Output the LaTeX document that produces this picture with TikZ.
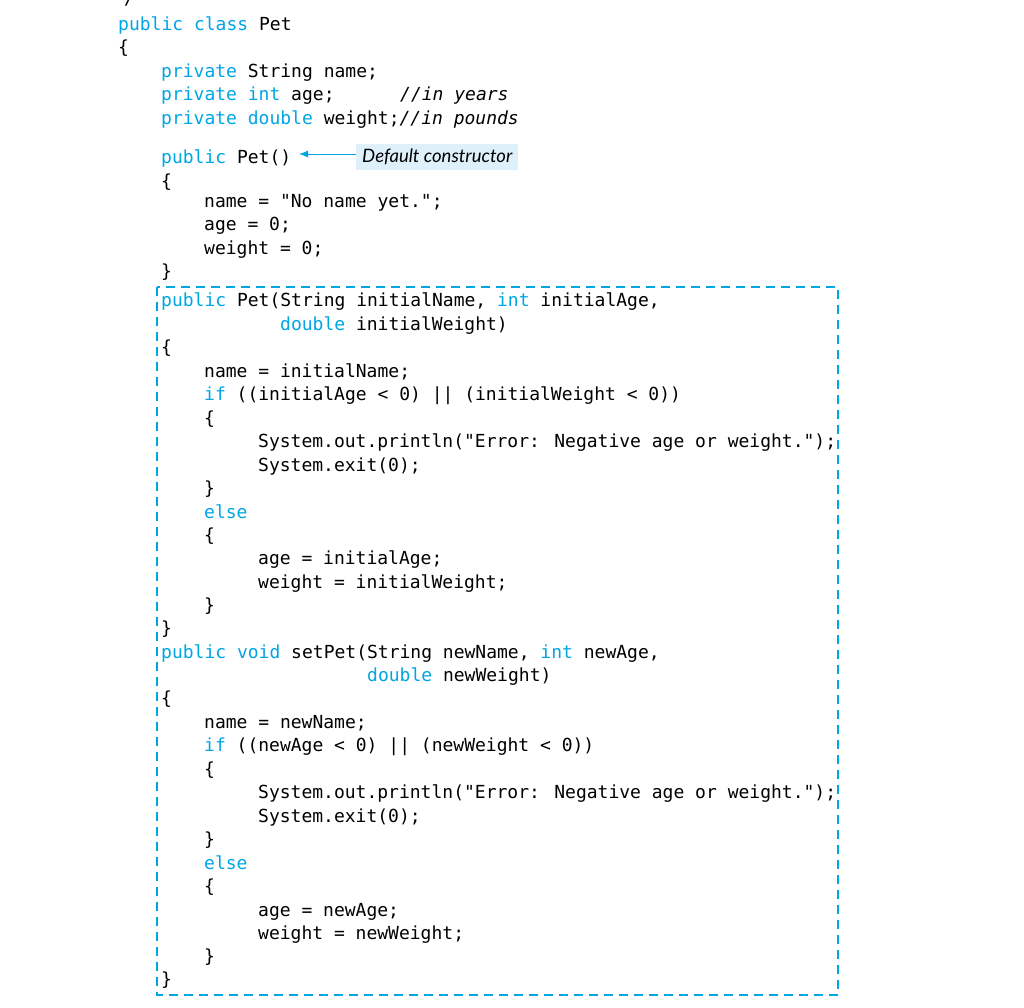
\documentclass[tikz,border=0pt]{standalone}
\usepackage{fontspec}
\usetikzlibrary{arrows.meta}
\newfontfamily\codefont{DejaVu Sans Mono}
\newfontfamily\notefont{Lato}
\definecolor{kw}{RGB}{0,166,228}
\definecolor{note}{RGB}{222,240,250}
\newcommand{\K}[1]{\textcolor{kw}{#1}}
\newcommand{\C}[1]{{\itshape #1}}
\begin{document}
\begin{tikzpicture}[x=1pt,y=-1pt,
  ln/.style={anchor=base west,inner sep=0pt,font=\codefont\fontsize{18}{18}\selectfont}]
\useasboundingbox (0,0) rectangle (1024,1007);
\fill[white] (0,0) rectangle (1024,1007);
\node[ln] (t0) at (124,4) {/};
\node[ln] (l1) at (118,30) {\K{public class} Pet};
\node[ln] (l2) at (118,53) {\{};
\node[ln] (l3) at (161,77) {\K{private} String name;};
\node[ln] (l4) at (161,100) {\K{private int} age;};
\node[ln] (c4) at (400,100) {\C{//in years}};
\node[ln] (l5) at (161,124) {\K{private double} weight;\C{//in pounds}};
\node[ln] (l6) at (161,163) {\K{public} Pet()};
\node[ln] (l7) at (161,187) {\{};
\node[ln] (l8) at (204,207) {name = "No name yet.";};
\node[ln] (l9) at (204,230) {age = 0;};
\node[ln] (l10) at (204,254) {weight = 0;};
\node[ln] (l11) at (161,277) {\}};
\node[ln] (a1) at (161,306) {\K{public} Pet(String initialName, \K{int} initialAge,};
\node[ln] (a2) at (280,330) {\K{double} initialWeight)};
\node[ln] (a3) at (161,353) {\{};
\node[ln] (a4) at (204,377) {name = initialName;};
\node[ln] (a5) at (204,400) {\K{if} ((initialAge < 0) || (initialWeight < 0))};
\node[ln] (a6) at (204,424) {\{};
\node[ln] (a7) at (258,447) {System.out.println("Error: Negative age or weight.");};
\node[ln] (a8) at (258,471) {System.exit(0);};
\node[ln] (a9) at (204,494) {\}};
\node[ln] (a10) at (204,518) {\K{else}};
\node[ln] (a11) at (204,541) {\{};
\node[ln] (a12) at (258,564) {age = initialAge;};
\node[ln] (a13) at (258,588) {weight = initialWeight;};
\node[ln] (a14) at (204,611) {\}};
\node[ln] (a15) at (161,634) {\}};
\node[ln] (b1) at (161,658) {\K{public void} setPet(String newName, \K{int} newAge,};
\node[ln] (b2) at (367,681) {\K{double} newWeight)};
\node[ln] (b3) at (161,704) {\{};
\node[ln] (b4) at (204,728) {name = newName;};
\node[ln] (b5) at (204,751) {\K{if} ((newAge < 0) || (newWeight < 0))};
\node[ln] (b6) at (204,775) {\{};
\node[ln] (b7) at (258,798) {System.out.println("Error: Negative age or weight.");};
\node[ln] (b8) at (258,822) {System.exit(0);};
\node[ln] (b9) at (204,845) {\}};
\node[ln] (b10) at (204,869) {\K{else}};
\node[ln] (b11) at (204,892) {\{};
\node[ln] (b12) at (258,916) {age = newAge;};
\node[ln] (b13) at (258,939) {weight = newWeight;};
\node[ln] (b14) at (204,962) {\}};
\node[ln] (b15) at (161,985) {\}};
\draw[kw,line width=1.6pt,dash pattern=on 9pt off 6pt] (157,287) rectangle (838,995);
\node[fill=note,anchor=west,minimum height=26pt,inner xsep=6pt,font=\notefont\itshape\fontsize{18.5}{18.5}\selectfont] (dc) at (356,157) {Default constructor};
\coordinate (tip) at (299,154);
\draw[kw,line width=1pt,-{Latex[length=9pt,width=7pt]}] (dc.west |- tip) -- (tip);
\end{tikzpicture}
\end{document}
